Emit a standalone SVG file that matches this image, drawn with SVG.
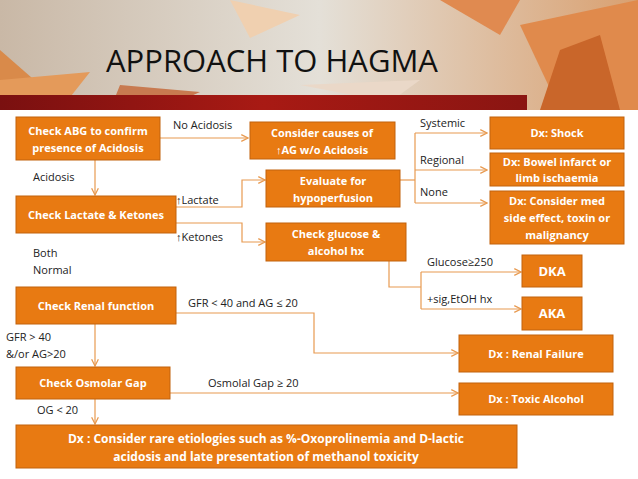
<svg xmlns="http://www.w3.org/2000/svg" width="638" height="479" viewBox="0 0 638 479">
<style>
.b{fill:#e87a12;stroke:#c2620c;stroke-width:1}
.t{font-family:"Open Sans","Liberation Sans",sans-serif;font-size:11px;font-weight:bold;fill:#fff;text-anchor:middle}
.l{font-family:"Open Sans","Liberation Sans",sans-serif;font-size:11px;fill:#222}
.c{fill:none;stroke:#e89a50;stroke-width:1.2}
</style>
<defs>
<marker id="a" viewBox="0 0 10 10" refX="9" refY="5" markerWidth="7" markerHeight="7" orient="auto"><path d="M1,1 L9,5 L1,9" fill="none" stroke="#e89a50" stroke-width="1.5"/></marker>
<linearGradient id="hg" x1="0" y1="0" x2="1" y2="0"><stop offset="0" stop-color="#c9b8a6"/><stop offset="0.5" stop-color="#e4e0d8"/><stop offset="1" stop-color="#d9a070"/></linearGradient>
<linearGradient id="rb" x1="0" y1="0" x2="1" y2="0"><stop offset="0" stop-color="#7a1010"/><stop offset="0.5" stop-color="#a81a14"/><stop offset="1" stop-color="#8a1512"/></linearGradient>
</defs>
<rect width="638" height="479" fill="#fff"/>
<g id="header">
<rect width="638" height="110" fill="url(#hg)"/>
<polygon points="0,50 40,85 0,100" fill="#d98a4a"/>
<polygon points="0,80 90,72 60,110 0,110" fill="#e49a5a"/>
<polygon points="230,0 300,15 250,38" fill="#f0d0b0"/>
<polygon points="440,0 520,0 500,35" fill="#e08a50"/>
<polygon points="520,25 638,0 638,110 560,110" fill="#e08a4c"/>
<polygon points="560,50 600,35 620,110 540,110" fill="#c9662a"/>
<polygon points="120,85 200,92 160,110 110,110" fill="#c87a50"/>
<polygon points="300,85 420,80 390,102" fill="#ead8c8"/>
<rect x="0" y="95" width="527" height="15" fill="url(#rb)"/>
<text x="106" y="72" font-family="'Open Sans','Liberation Sans',sans-serif" font-size="31" fill="#111">APPROACH TO HAGMA</text>
</g>
<g id="connectors">
<path class="c" d="M160,138 H248" marker-end="url(#a)"/>
<path class="c" d="M95,160 V195" marker-end="url(#a)"/>
<path class="c" d="M176,207 H242 V180 H265" marker-end="url(#a)"/>
<path class="c" d="M176,223 H242 V242 H265" marker-end="url(#a)"/>
<path class="c" d="M400,180 H415"/>
<path class="c" d="M415,133 V203"/>
<path class="c" d="M415,133 H487" marker-end="url(#a)"/>
<path class="c" d="M415,170 H487" marker-end="url(#a)"/>
<path class="c" d="M415,203 H487" marker-end="url(#a)"/>
<path class="c" d="M389,261 V287 H421"/>
<path class="c" d="M421,272 V309"/>
<path class="c" d="M421,272 H521" marker-end="url(#a)"/>
<path class="c" d="M421,309 H521" marker-end="url(#a)"/>
<path class="c" d="M176,313 H314 V353 H458" marker-end="url(#a)"/>
<path class="c" d="M95,324 V366" marker-end="url(#a)"/>
<path class="c" d="M170,393 H458" marker-end="url(#a)"/>
<path class="c" d="M95,399 V424" marker-end="url(#a)"/>
</g>
<g id="labels" class="l">
<text x="173" y="129">No Acidosis</text>
<text x="33" y="181">Acidosis</text>
<text x="176" y="204">↑Lactate</text>
<text x="176" y="241">↑Ketones</text>
<text x="33" y="257">Both</text>
<text x="33" y="274">Normal</text>
<text x="420" y="127">Systemic</text>
<text x="420" y="164">Regional</text>
<text x="420" y="196">None</text>
<text x="427" y="266">Glucose≥250</text>
<text x="427" y="303">+sig,EtOH hx</text>
<text x="188" y="307">GFR &lt; 40 and AG ≤ 20</text>
<text x="6" y="341">GFR &gt; 40</text>
<text x="6" y="358">&amp;/or AG&gt;20</text>
<text x="208" y="387">Osmolal Gap ≥ 20</text>
<text x="37" y="414">OG &lt; 20</text>
</g>
<g id="abg"><rect class="b" x="16" y="117" width="144" height="43"/><text class="t" x="88" y="135">Check ABG to confirm</text><text class="t" x="88" y="152">presence of Acidosis</text></g>
<g id="causes"><rect class="b" x="250" y="122" width="145" height="37"/><text class="t" x="322" y="137">Consider causes of</text><text class="t" x="322" y="154">↑AG w/o Acidosis</text></g>
<g id="shock"><rect class="b" x="490" y="117" width="134" height="32"/><text class="t" x="557" y="137">Dx: Shock</text></g>
<g id="bowel"><rect class="b" x="490" y="153" width="134" height="33"/><text class="t" x="557" y="166">Dx: Bowel infarct or</text><text class="t" x="557" y="182">limb ischaemia</text></g>
<g id="med"><rect class="b" x="490" y="191" width="134" height="53"/><text class="t" x="557" y="205">Dx: Consider med</text><text class="t" x="557" y="222">side effect, toxin or</text><text class="t" x="557" y="239">malignancy</text></g>
<g id="evaluate"><rect class="b" x="266" y="170" width="134" height="37"/><text class="t" x="333" y="185">Evaluate for</text><text class="t" x="333" y="202">hypoperfusion</text></g>
<g id="lactate"><rect class="b" x="16" y="196" width="160" height="37"/><text class="t" x="96" y="219">Check Lactate &amp; Ketones</text></g>
<g id="glucose"><rect class="b" x="266" y="223" width="140" height="38"/><text class="t" x="336" y="238">Check glucose &amp;</text><text class="t" x="336" y="255">alcohol hx</text></g>
<g id="dka"><rect class="b" x="522" y="255" width="60" height="32"/><text class="t" x="552" y="276" style="font-size:13px">DKA</text></g>
<g id="aka"><rect class="b" x="522" y="297" width="60" height="33"/><text class="t" x="552" y="318" style="font-size:13px">AKA</text></g>
<g id="renal"><rect class="b" x="16" y="287" width="160" height="37"/><text class="t" x="96" y="310">Check Renal function</text></g>
<g id="renalfail"><rect class="b" x="459" y="335" width="154" height="37"/><text class="t" x="536" y="358">Dx : Renal Failure</text></g>
<g id="osmolar"><rect class="b" x="16" y="367" width="154" height="32"/><text class="t" x="93" y="387">Check Osmolar Gap</text></g>
<g id="toxic"><rect class="b" x="459" y="383" width="154" height="32"/><text class="t" x="536" y="403">Dx : Toxic Alcohol</text></g>
<g id="rare"><rect class="b" x="16" y="425" width="501" height="43"/><text class="t" x="266" y="443" style="font-size:12px">Dx : Consider rare etiologies such as %-Oxoprolinemia and D-lactic</text><text class="t" x="266" y="461" style="font-size:12px">acidosis and late presentation of methanol toxicity</text></g>
</svg>
